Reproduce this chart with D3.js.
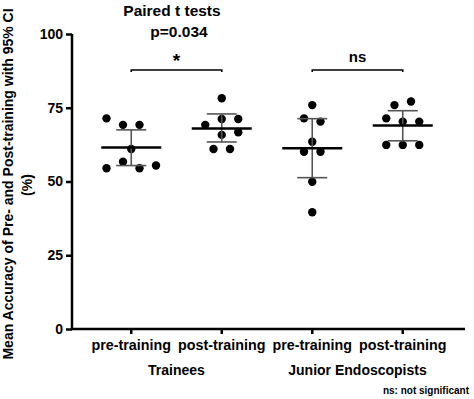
<!DOCTYPE html>
<html>
<head>
<meta charset="utf-8">
<script src="https://cdn.jsdelivr.net/npm/d3@7"></script>
<style>
  body { margin: 0; background: #fff; }
  svg text { font-family: "Liberation Sans", Arial, sans-serif; font-weight: bold; fill: #000; }
</style>
</head>
<body>
<div id="chart"></div>
<script>
var width = 474, height = 399;

// conditions along the x axis
var conditions = ["pre-training", "post-training", "pre-training", "post-training"];
var groups = ["Trainees", "Junior Endoscopists"];
var yTicks = [0, 25, 50, 75, 100];

// individual accuracies (%) per condition
var traineesPre = [71.4, 69.2, 69.2, 61.0, 56.7, 54.5, 54.5, 55.4];
var traineesPost = [78.2, 69.2, 71.2, 71.2, 66.7, 65.8, 61.0, 61.0];
var juniorPre = [75.9, 71.4, 70.3, 63.5, 60.1, 60.1, 49.9, 39.6];
var juniorPost = [75.9, 77.1, 71.4, 70.3, 70.3, 62.4, 62.4, 62.4];

// horizontal slot of each dot (as placed in the scatter)
var traineesPreSlot = [-1.5, -0.5, 0.5, 0, -0.5, -1.5, 0.5, 1.5];
var traineesPostSlot = [0, -1, 0, 1, 1, 0, -0.5, 0.5];
var juniorPreSlot = [0, -0.5, 0.5, 0, -0.5, 0.5, 0, 0];
var juniorPostSlot = [-0.5, 0.5, -1, 0, 1, -1, 0, 1];

// mean with 95% CI
var means = [61.5, 68.0, 61.3, 69.0];
var ciLow = [55.4, 63.4, 51.3, 63.8];
var ciHigh = [67.5, 72.9, 71.3, 74.0];

var series = [traineesPre, traineesPost, juniorPre, juniorPost];
var slots = [traineesPreSlot, traineesPostSlot, juniorPreSlot, juniorPostSlot];

var svg = d3.select("#chart").append("svg")
    .attr("width", width)
    .attr("height", height);

var y = d3.scaleLinear().domain([0, 100]).range([329, 34]);
var x = d3.scaleBand().domain(d3.range(4)).range([86, 448]);
var cx = function (i) { return x(i) + x.bandwidth() / 2; };

// y axis
var yAxis = svg.append("g")
    .attr("transform", "translate(72,0)")
    .call(d3.axisLeft(y).tickValues(yTicks).tickSize(6).tickPadding(3));
yAxis.select(".domain").attr("stroke-width", 2.5).attr("d", "M0," + y(100) + "V" + y(0));
yAxis.selectAll(".tick line").attr("stroke-width", 2.5);
yAxis.selectAll(".tick text").style("font-size", "14px");

// x axis
var xAxis = svg.append("g")
    .attr("transform", "translate(0,329)")
    .call(d3.axisBottom(x).tickSize(5).tickPadding(6).tickFormat(function (i) { return conditions[i]; }));
xAxis.select(".domain").attr("stroke-width", 2.5).attr("d", "M71,0H465");
xAxis.selectAll(".tick line").attr("stroke-width", 2.5);
xAxis.selectAll(".tick text").style("font-size", "14.3px");

// group labels
groups.forEach(function (g, k) {
  svg.append("text")
      .attr("x", (cx(2 * k) + cx(2 * k + 1)) / 2)
      .attr("y", 375)
      .attr("text-anchor", "middle")
      .style("font-size", "14px")
      .text(g);
});

svg.append("text")
    .attr("x", 469).attr("y", 394)
    .attr("text-anchor", "end")
    .style("font-size", "10px")
    .text("ns: not significant");

// y axis title
var yTitle = svg.append("text")
    .attr("transform", "translate(13,184) rotate(-90)")
    .attr("text-anchor", "middle")
    .style("font-size", "14px");
yTitle.append("tspan").attr("x", 0).attr("dy", 0).text("Mean Accuracy of Pre- and  Post-training with 95% CI");
yTitle.append("tspan").attr("x", -1).attr("dy", 19).text("(%)");

// dots
var slotW = 16.5;
series.forEach(function (vals, i) {
  svg.append("g").selectAll("circle")
      .data(vals)
    .enter().append("circle")
      .attr("cx", function (d, j) { return cx(i) + slots[i][j] * slotW; })
      .attr("cy", function (d) { return y(d); })
      .attr("r", 4.2)
      .attr("fill", "#000");
});

// mean and CI
means.forEach(function (m, i) {
  var g = svg.append("g");
  g.append("line")
      .attr("x1", cx(i)).attr("x2", cx(i))
      .attr("y1", y(ciLow[i])).attr("y2", y(ciHigh[i]))
      .attr("stroke", "#555").attr("stroke-width", 1.6);
  [ciLow[i], ciHigh[i]].forEach(function (v) {
    g.append("line")
        .attr("x1", cx(i) - 15).attr("x2", cx(i) + 15)
        .attr("y1", y(v)).attr("y2", y(v))
        .attr("stroke", "#555").attr("stroke-width", 1.6);
  });
  g.append("line")
      .attr("x1", cx(i) - 30).attr("x2", cx(i) + 30)
      .attr("y1", y(m)).attr("y2", y(m))
      .attr("stroke", "#000").attr("stroke-width", 2.5);
});

// significance brackets
var sig = [{a: 0, b: 1, label: "*"}, {a: 2, b: 3, label: "ns"}];
sig.forEach(function (s) {
  svg.append("path")
      .attr("d", "M" + cx(s.a) + ",72V70H" + cx(s.b) + "V72")
      .attr("fill", "none").attr("stroke", "#000").attr("stroke-width", 1.6);
  svg.append("text")
      .attr("x", (cx(s.a) + cx(s.b)) / 2)
      .attr("y", s.label === "*" ? 67 : 62)
      .attr("text-anchor", "middle")
      .style("font-size", s.label === "*" ? "19px" : "15px")
      .text(s.label);
});

// test title
svg.append("text").attr("x", 172).attr("y", 16).attr("text-anchor", "middle")
    .style("font-size", "15.5px").text("Paired t tests");
svg.append("text").attr("x", 179).attr("y", 37).attr("text-anchor", "middle")
    .style("font-size", "15.5px").text("p=0.034");
</script>
</body>
</html>
